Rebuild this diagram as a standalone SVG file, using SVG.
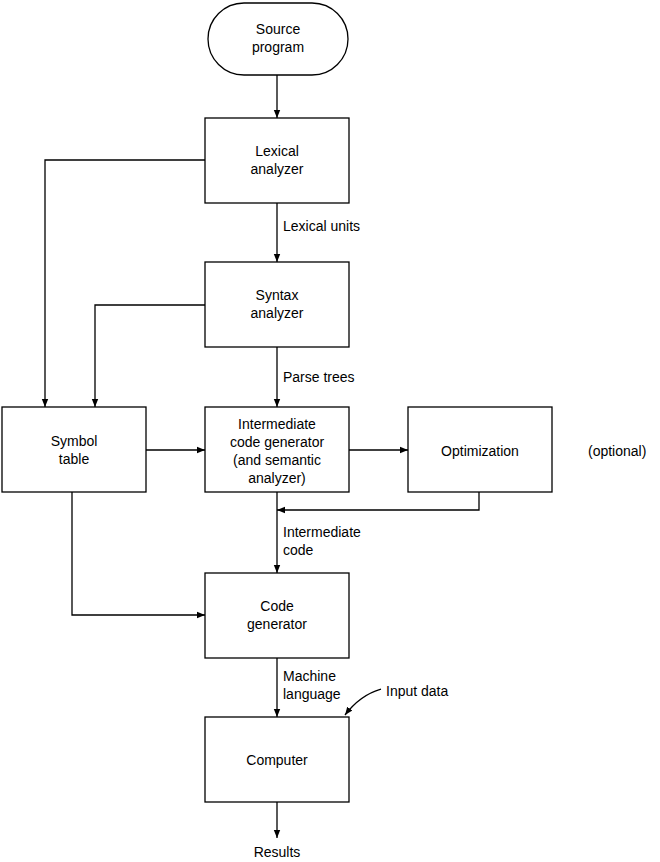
<svg xmlns="http://www.w3.org/2000/svg" width="660" height="862" viewBox="0 0 660 862">
<style>
.b{fill:#fff;stroke:#000;stroke-width:1.3}
text{font-family:"Liberation Sans",Arial,sans-serif;font-size:14px;fill:#000}
.c{text-anchor:middle}
.l{fill:none;stroke:#000;stroke-width:1.3}
</style>
<defs><marker id="a" viewBox="0 0 10 10" refX="10" refY="5" markerWidth="8" markerHeight="8" orient="auto" markerUnits="userSpaceOnUse"><path d="M0,1 L10,5 L0,9 z" fill="#000"/></marker></defs>
<rect width="660" height="862" fill="#fff"/>
<g id="connectors" class="l">
<path class="l" d="M277,75 V118" marker-end="url(#a)"/>
<path class="l" d="M277,203 V262" marker-end="url(#a)"/>
<path class="l" d="M277,347 V407" marker-end="url(#a)"/>
<path class="l" d="M277,492 V573" marker-end="url(#a)"/>
<path class="l" d="M277,658 V717" marker-end="url(#a)"/>
<path class="l" d="M277,802 V838" marker-end="url(#a)"/>
<path class="l" d="M205,160 H45 V407" marker-end="url(#a)"/>
<path class="l" d="M205,305 H95 V407" marker-end="url(#a)"/>
<path class="l" d="M146,450 H205" marker-end="url(#a)"/>
<path class="l" d="M349,450 H408" marker-end="url(#a)"/>
<path class="l" d="M479,492 V510 H277" marker-end="url(#a)"/>
<path class="l" d="M72,492 V615 H205" marker-end="url(#a)"/>
<path class="l" d="M381,689 Q360,695 345,715" marker-end="url(#a)"/>
</g>
<g id="source"><rect class="b" x="208" y="3" width="140" height="72" rx="36"/><text class="c" x="278" y="34">Source</text><text class="c" x="278" y="52">program</text></g>
<g id="lexical"><rect class="b" x="205" y="118" width="144" height="85"/><text class="c" x="277" y="156">Lexical</text><text class="c" x="277" y="174">analyzer</text></g>
<g id="syntax"><rect class="b" x="205" y="262" width="144" height="85"/><text class="c" x="277" y="300">Syntax</text><text class="c" x="277" y="318">analyzer</text></g>
<g id="symbol"><rect class="b" x="2" y="407" width="144" height="85"/><text class="c" x="74" y="446">Symbol</text><text class="c" x="74" y="464">table</text></g>
<g id="intermediate"><rect class="b" x="205" y="407" width="144" height="85"/><text class="c" x="277" y="429">Intermediate</text><text class="c" x="277" y="447">code generator</text><text class="c" x="277" y="465">(and semantic</text><text class="c" x="277" y="483">analyzer)</text></g>
<g id="optimization"><rect class="b" x="408" y="407" width="144" height="85"/><text class="c" x="480" y="456">Optimization</text></g>
<g id="codegen"><rect class="b" x="205" y="573" width="144" height="85"/><text class="c" x="277" y="611">Code</text><text class="c" x="277" y="629">generator</text></g>
<g id="computer"><rect class="b" x="205" y="717" width="144" height="85"/><text class="c" x="277" y="765">Computer</text></g>
<g id="labels">
<text x="283" y="231">Lexical units</text>
<text x="283" y="382">Parse trees</text>
<text x="588" y="456">(optional)</text>
<text x="283" y="537">Intermediate</text>
<text x="283" y="555">code</text>
<text x="283" y="681">Machine</text>
<text x="283" y="699">language</text>
<text x="386" y="696">Input data</text>
<text class="c" x="277" y="857">Results</text>
</g>
</svg>
